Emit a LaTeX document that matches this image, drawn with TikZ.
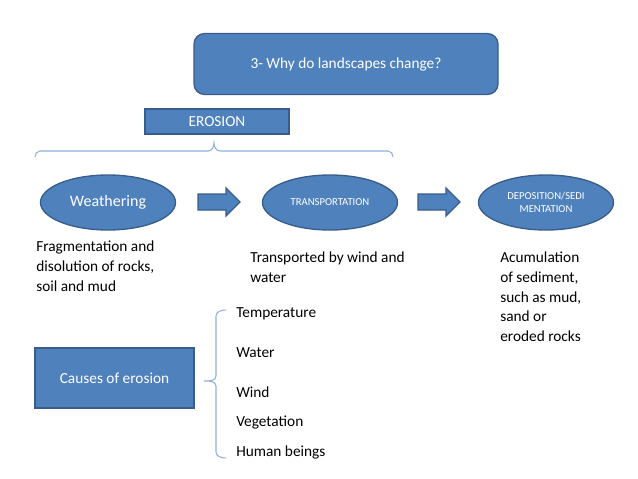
\documentclass[tikz,border=0pt]{standalone}
\usepackage{fontspec}
\setmainfont{Carlito}
\usetikzlibrary{shapes.geometric}
\definecolor{boxfill}{HTML}{4F81BD}
\definecolor{boxline}{HTML}{385D8A}
\definecolor{bracecol}{HTML}{8FB0D8}
\begin{document}
\begin{tikzpicture}[x=0.75pt,y=-0.75pt,
  bluebox/.style={draw=boxline,line width=1pt,fill=boxfill,text=white,inner sep=0pt,font=\fontsize{11.5}{14}\selectfont},
  blueell/.style={ellipse,draw=boxline,line width=1pt,fill=boxfill,text=white,inner sep=0pt,minimum width=101.25pt,minimum height=41.25pt},
  blockarrow/.style={draw=boxline,line width=1pt,fill=boxfill,line join=miter},
  body/.style={inner sep=0pt,align=left,font=\fontsize{11.5}{14.7}\selectfont},
  bracestyle/.style={draw=bracecol,line width=0.8pt}]
\useasboundingbox (0,0) rectangle (638,478);
% title
\node[bluebox,rounded corners=8pt,minimum width=228pt,minimum height=45.75pt] (title) at (346,64) {3- Why do landscapes change?};
% erosion
\node[bluebox,minimum width=108pt,minimum height=18.75pt] (erosion) at (217,121.5) {EROSION};
% top brace
\coordinate (b1) at (35,157);
\coordinate (b2) at (393,157);
\coordinate (btip) at (214,143);
\draw[bracestyle] (b1) to[out=90,in=180] (40,151) -- (208,151) to[out=0,in=-90] (btip) to[out=-90,in=180] (220,151) -- (388,151) to[out=0,in=90] (b2);
% ellipses
\node[blueell,font=\fontsize{12}{14}\selectfont] (weather) at (108,202.5) {Weathering};
\node[blueell,font=\fontsize{8}{9.5}\selectfont] (transp) at (330,202.5) {TRANSPORTATION};
\node[blueell,font=\fontsize{8}{9.5}\selectfont,align=center] (depo) at (546,202.5) {DEPOSITION/SEDI\\MENTATION};
% arrows
\coordinate (a1) at (198,202);
\coordinate (a2) at (418,202);
\draw[blockarrow] ([yshift=6pt]a1) -- ++(28,0) -- ++(0,-6) -- ++(14,14) -- ++(-14,14) -- ++(0,-6) -- ++(-28,0) -- cycle;
\draw[blockarrow] ([yshift=6pt]a2) -- ++(28,0) -- ++(0,-6) -- ++(14,14) -- ++(-14,14) -- ++(0,-6) -- ++(-28,0) -- cycle;
% texts
\node[body,anchor=north west] (frag) at (36,241) {Fragmentation and\\disolution of rocks,\\soil and mud};
\node[body,anchor=north west] (trans) at (250,252) {Transported by wind and\\water};
\node[body,anchor=north west] (acum) at (500,252) {Acumulation\\of sediment,\\such as mud,\\sand or\\eroded rocks};
% causes
\node[bluebox,minimum width=119.25pt,minimum height=45pt] (causes) at (114.5,378) {Causes of erosion};
\coordinate (c1) at (226,310);
\coordinate (c2) at (226,458);
\coordinate (ctip) at (204,381);
\draw[bracestyle] (c1) to[out=180,in=90] (216,316) -- (216,376) to[out=-90,in=0] (ctip) to[out=0,in=90] (216,386) -- (216,452) to[out=-90,in=180] (c2);
\node[body,anchor=base west] (t1) at (236,317) {Temperature};
\node[body,anchor=base west] (t2) at (236,357) {Water};
\node[body,anchor=base west] (t3) at (236,397) {Wind};
\node[body,anchor=base west] (t4) at (236,426) {Vegetation};
\node[body,anchor=base west] (t5) at (236,456) {Human beings};
\end{tikzpicture}
\end{document}
